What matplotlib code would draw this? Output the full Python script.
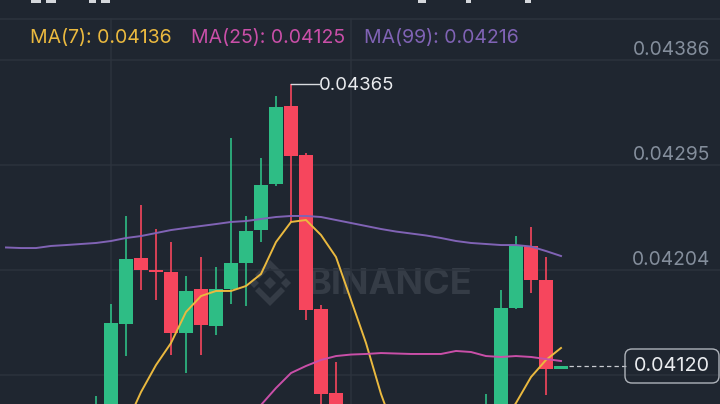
from __future__ import annotations

import matplotlib
matplotlib.use("Agg")
import matplotlib.pyplot as plt
from matplotlib.patches import FancyBboxPatch, Polygon, Rectangle

BG = "#1f2630"
GRID = "#2c333d"
GREEN = "#2ebd85"
RED = "#f6465d"
YELLOW = "#eab93f"
PINK = "#c94fa8"
PURPLE = "#8063b5"
AXIS_TEXT = "#848e9c"
FONT = "Inter"

# candle slots (one slot per candle), hidden ones below the view are left out
slots = [0, 1, 2, 3, 4, 5, 6, 7, 8, 9, 10, 11, 12, 13, 14, 15, 16, 26, 27, 28, 29, 30, 31]
opens = [0.04065, 0.04074, 0.04157, 0.04214, 0.04204, 0.04202, 0.04149, 0.04187, 0.04155, 0.04187, 0.04210,
         0.04238, 0.04278, 0.04346, 0.04303, 0.04170, 0.04097, 0.04050, 0.04070, 0.04171, 0.04224, 0.04195, 0.04118]
highs = [0.04094, 0.04174, 0.04250, 0.04260, 0.04239, 0.04228, 0.04198, 0.04215, 0.04206, 0.04318, 0.04250,
         0.04301, 0.04354, 0.04365, 0.04305, 0.04173, 0.04124, 0.04096, 0.04186, 0.04233, 0.04241, 0.04215, 0.04120]
lows = [0.04050, 0.04060, 0.04129, 0.04186, 0.04178, 0.04130, 0.04114, 0.04130, 0.04147, 0.04174, 0.04172,
        0.04228, 0.04276, 0.04245, 0.04160, 0.04070, 0.04030, 0.04040, 0.04060, 0.04170, 0.04184, 0.04095, 0.04118]
closes = [0.04082, 0.04158, 0.04213, 0.04204, 0.04202, 0.04149, 0.04185, 0.04156, 0.04187, 0.04210, 0.04237,
          0.04277, 0.04345, 0.04302, 0.04169, 0.04096, 0.04050, 0.04082, 0.04171, 0.04224, 0.04195, 0.04118, 0.04120]

ma7_start = 1
ma7 = [0.040432, 0.040692, 0.040978, 0.041212, 0.041403, 0.041672, 0.041810, 0.041854, 0.041854, 0.041897, 0.042001,
       0.042278, 0.042452, 0.042469, 0.042339, 0.042148, 0.041776, 0.041403, 0.040961, 0.040606, 0.040346, 0.040216,
       0.040129, 0.040129, 0.040259, 0.040476, 0.040692, 0.040883, 0.041108, 0.041256, 0.041360]

ma25_start = 10
ma25 = [0.040736, 0.040866, 0.041013, 0.041143, 0.041204, 0.041256, 0.041290, 0.041303, 0.041308, 0.041316, 0.041312,
        0.041308, 0.041308, 0.041308, 0.041334, 0.041325, 0.041290, 0.041282, 0.041290, 0.041282, 0.041264, 0.041247]

ma99_start = -6
ma99 = [0.042231, 0.042226, 0.042226, 0.042244, 0.042252, 0.042261, 0.042270, 0.042287, 0.042313, 0.042330, 0.042356,
        0.042382, 0.042400, 0.042417, 0.042434, 0.042452, 0.042460, 0.042478, 0.042495, 0.042504, 0.042504, 0.042495,
        0.042469, 0.042443, 0.042417, 0.042391, 0.042369, 0.042352, 0.042335, 0.042313, 0.042287, 0.042270, 0.042261,
        0.042252, 0.042252, 0.042239, 0.042200, 0.042157]

price_ticks = [0.04386, 0.04295, 0.04204, 0.04113]
price_labels = ["0.04386", "0.04295", "0.04204", ""]
grid_slots = [1, 17]

high_price = 0.04365
high_label = "0.04365"
last_price = 0.04120
last_label = "0.04120"
legend_items = [("MA(7): 0.04136", YELLOW, 30), ("MA(25): 0.04125", PINK, 191), ("MA(99): 0.04216", PURPLE, 364)]


def draw_backdrop(fig):
    # pixel-space layer for things that are not part of the data
    ax = fig.add_axes([0, 0, 1, 1], zorder=0)
    ax.set_xlim(0, 720)
    ax.set_ylim(404, 0)
    ax.axis("off")

    ax.plot([0, 720], [18.5, 18.5], color=GRID, lw=1.2)

    # clipped toolbar icons along the top edge
    for x, w in [(31, 10), (46, 10), (89, 7), (101, 9), (418, 8), (466, 5), (525, 6)]:
        ax.add_patch(Rectangle((x, 0), w, 2.5, color="#d5d8dc", lw=0))

    # watermark logo
    c = (270, 283)
    wm = "#353c46"
    for dx, dy, r in [(0, 0, 6), (-16, 0, 5), (16, 0, 5)]:
        x, y = c[0] + dx, c[1] + dy
        ax.add_patch(Polygon([(x - r, y), (x, y - r), (x + r, y), (x, y + r)], color=wm, lw=0))
    for s in (-1, 1):
        ax.add_patch(Polygon([(c[0] - 15, c[1] + s * 8), (c[0], c[1] + s * 23), (c[0] + 15, c[1] + s * 8),
                              (c[0] + 11, c[1] + s * 4), (c[0], c[1] + s * 15), (c[0] - 11, c[1] + s * 4)],
                             color=wm, lw=0))
    ax.text(308, 285, "BINANCE", color=wm, fontsize=26, fontweight="bold", family=FONT, va="center", ha="left")
    return ax


def draw_chart(ax):
    ax.set_facecolor("none")
    ax.set_xlim(-6.4, 41.6)
    ax.set_ylim(0.0408744, 0.0443757)
    for side in ax.spines.values():
        side.set_visible(False)
    ax.set_xticks([])
    ax.set_yticks([])

    for p in price_ticks:
        ax.axhline(p, color=GRID, lw=1.1, zorder=1)
    for g in grid_slots:
        ax.plot([g, g], [ax.get_ylim()[0], 0.04386 + 0.000355], color=GRID, lw=1.1, zorder=1)

    for x, o, h, l, c in zip(slots, opens, highs, lows, closes):
        color = GREEN if c >= o else RED
        ax.vlines(x, l, h, color=color, lw=1.2, zorder=2)
        ax.bar(x, abs(c - o), bottom=min(o, c), width=0.89, color=color, lw=0, zorder=3)

    lines = [(ma7_start, ma7, YELLOW), (ma25_start, ma25, PINK), (ma99_start, ma99, PURPLE)]
    for start, values, color in lines:
        xs = list(range(start, start + len(values)))
        ax.plot(xs, values, color=color, lw=1.4, zorder=4, solid_joinstyle="round")

    trans = ax.get_yaxis_transform()
    for p, label in zip(price_ticks, price_labels):
        ax.annotate(label, xy=(1, p), xycoords=trans, xytext=(-7, 6.5), textcoords="offset points",
                    ha="right", va="center", color=AXIS_TEXT, fontsize=13.8, family=FONT)

    # high marker
    ax.plot([13, 14.85], [high_price, high_price], color="#d8dbdf", lw=1, zorder=5)
    ax.annotate(high_label, xy=(14.85, high_price), xytext=(0, -1), textcoords="offset points",
                color="#eaecef", fontsize=13.4, family=FONT, va="center", ha="left", zorder=5)

    # last price line and box
    ax.plot([31.5, 35.3], [last_price, last_price], color="#c9ccd1", lw=0.9, ls=(0, (3.5, 2.5)), zorder=5)
    ax.annotate(last_label, xy=(1, last_price), xycoords=trans, xytext=(-7, 0), textcoords="offset points",
                ha="right", va="center", color="#eaecef", fontsize=14.3, family=FONT, zorder=6)


def main() -> None:
    fig = plt.figure(figsize=(7.2, 4.04), dpi=100, facecolor=BG)
    back = draw_backdrop(fig)
    ax = fig.add_axes([0, 0, 1, 1], zorder=1)
    draw_chart(ax)

    front = fig.add_axes([0, 0, 1, 1], zorder=2)
    front.set_xlim(0, 720)
    front.set_ylim(404, 0)
    front.axis("off")
    front.add_patch(FancyBboxPatch((628, 352), 88, 28, boxstyle="round,pad=3,rounding_size=7",
                                   fc="none", ec="#aeb3ba", lw=1))
    for label, color, x in legend_items:
        front.text(x, 38, label, color=color, fontsize=14, family=FONT, va="center", ha="left")

    fig.savefig("out.png", dpi=100, facecolor=BG)
    plt.close(fig)


if __name__ == "__main__":
    main()
